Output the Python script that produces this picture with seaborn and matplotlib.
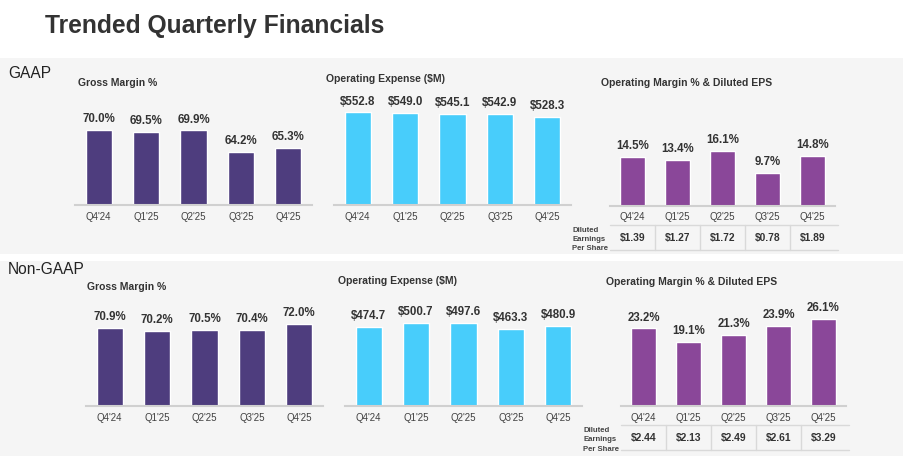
import numpy as np
import matplotlib
matplotlib.use("Agg")
import matplotlib.pyplot as plt
import pandas as pd
import seaborn as sns
from matplotlib import font_manager
from matplotlib.patches import Rectangle

quarters = ["Q4'24", "Q1'25", "Q2'25", "Q3'25", "Q4'25"]

gaap_gross_margin = [70.0, 69.5, 69.9, 64.2, 65.3]
gaap_opex = [552.8, 549.0, 545.1, 542.9, 528.3]
gaap_op_margin = [14.5, 13.4, 16.1, 9.7, 14.8]
gaap_eps = [1.39, 1.27, 1.72, 0.78, 1.89]

nongaap_gross_margin = [70.9, 70.2, 70.5, 70.4, 72.0]
nongaap_opex = [474.7, 500.7, 497.6, 463.3, 480.9]
nongaap_op_margin = [23.2, 19.1, 21.3, 23.9, 26.1]
nongaap_eps = [2.44, 2.13, 2.49, 2.61, 3.29]

GM_COLOR = "#4e3d7e"
OPEX_COLOR = "#48cdfb"
OPM_COLOR = "#8a4799"
TEXT = "#333333"

sns.set_style("white")
plt.rcParams["font.family"] = ["Liberation Sans", "DejaVu Sans"]

W, H = 904, 466
AX_H = 100
fig = plt.figure(figsize=(W / 100, H / 100), dpi=100)
fig.patch.set_facecolor("white")

# grey section panels
for top, bottom in [(58, 254), (261, 456)]:
    fig.patches.append(Rectangle((0, 1 - bottom / H), 1, (bottom - top) / H,
                                 transform=fig.transFigure, facecolor="#f5f5f5",
                                 edgecolor="none", zorder=-5))

names = {f.name for f in font_manager.fontManager.ttflist}
if "Liberation Sans Narrow" in names:
    fig.text(45 / W, 1 - 33 / H, "Trended Quarterly Financials", family="Liberation Sans Narrow",
             fontsize=21.6, fontweight="bold", color="#333333", va="baseline")
else:
    fig.text(45 / W, 1 - 33 / H, "Trended Quarterly Financials",
             fontsize=17.7, fontweight="bold", color="#333333", va="baseline")

fig.text(8 / W, 1 - 73 / H, "GAAP", fontsize=11.2, color="#222222", va="center")
fig.text(8 / W, 1 - 269 / H, "Non-GAAP", fontsize=11.2, color="#222222", va="center")


def bar_panel(left, right, base, values, color, ylim, fmt, title, tx, ty):
    ax = fig.add_axes([left / W, 1 - base / H, (right - left) / W, AX_H / H])
    ax.set_zorder(2)
    df = pd.DataFrame({"quarter": quarters, "value": values})
    sns.barplot(data=df, x="quarter", y="value", color=color, saturation=1,
                width=0.55, ax=ax)
    ax.set_xlim(-0.5, 4.5)
    ax.set_ylim(*ylim)
    ax.bar_label(ax.containers[0], labels=[fmt.format(v) for v in values],
                 padding=3.5, fontsize=8.3, fontweight="bold", color=TEXT)
    ax.patch.set_alpha(0)
    ax.set_xlabel("")
    ax.set_ylabel("")
    ax.set_yticks([])
    for s in ["top", "right", "left"]:
        ax.spines[s].set_visible(False)
    ax.spines["bottom"].set_color("#d0d0d0")
    ax.spines["bottom"].set_linewidth(1.5)
    ax.tick_params(axis="x", length=0, pad=5, labelsize=7, labelcolor="#404040")
    fig.text(tx / W, 1 - ty / H, title, fontsize=7.5, fontweight="bold",
             color=TEXT, va="center")
    return ax


def eps_table(ax, eps):
    tr = ax.get_xaxis_transform()
    y_top, y_bot, y_val = -19 / AX_H, -44.3 / AX_H, -32.5 / AX_H
    ax.plot([-0.5, 4.56], [y_top, y_top], color="#d9d9d9", lw=1, transform=tr, clip_on=False)
    ax.plot([-0.5, 4.56], [y_bot, y_bot], color="#d9d9d9", lw=1, transform=tr, clip_on=False)
    for x in np.arange(0.5, 4, 1.0):
        ax.plot([x, x], [y_top, y_bot], color="#d9d9d9", lw=1, transform=tr, clip_on=False)
    for i, v in enumerate(eps):
        ax.text(i, y_val, f"${v:.2f}", transform=tr, ha="center", va="center",
                fontsize=7.4, fontweight="bold", color=TEXT, clip_on=False)
    for label, yy in [("Diluted", -24.5), ("Earnings", -34), ("Per Share", -43.5)]:
        ax.text(-1.34, yy / AX_H, label, transform=tr, ha="left", va="center",
                fontsize=5.6, fontweight="bold", color="#444444", clip_on=False)


# GAAP row
bar_panel(75, 312, 205, gaap_gross_margin, GM_COLOR, (50.2, 76.6), "{:.1f}%",
          "Gross Margin %", 78, 83)
bar_panel(334, 571, 205, gaap_opex, OPEX_COLOR, (0, 597), "${:.1f}",
          "Operating Expense ($M)", 326, 79)
ax = bar_panel(610, 835, 205.5, gaap_op_margin, OPM_COLOR, (0, 29.6), "{:.1f}%",
               "Operating Margin % & Diluted EPS", 601, 83)
eps_table(ax, gaap_eps)

# Non-GAAP row
bar_panel(86, 323, 405.7, nongaap_gross_margin, GM_COLOR, (50, 77), "{:.1f}%",
          "Gross Margin %", 87, 287)
bar_panel(345, 582, 405.7, nongaap_opex, OPEX_COLOR, (0, 603), "${:.1f}",
          "Operating Expense ($M)", 338, 281)
ax = bar_panel(621, 846, 405.7, nongaap_op_margin, OPM_COLOR, (0, 30), "{:.1f}%",
               "Operating Margin % & Diluted EPS", 606, 282)
eps_table(ax, nongaap_eps)

fig.savefig("out.png", dpi=100)
